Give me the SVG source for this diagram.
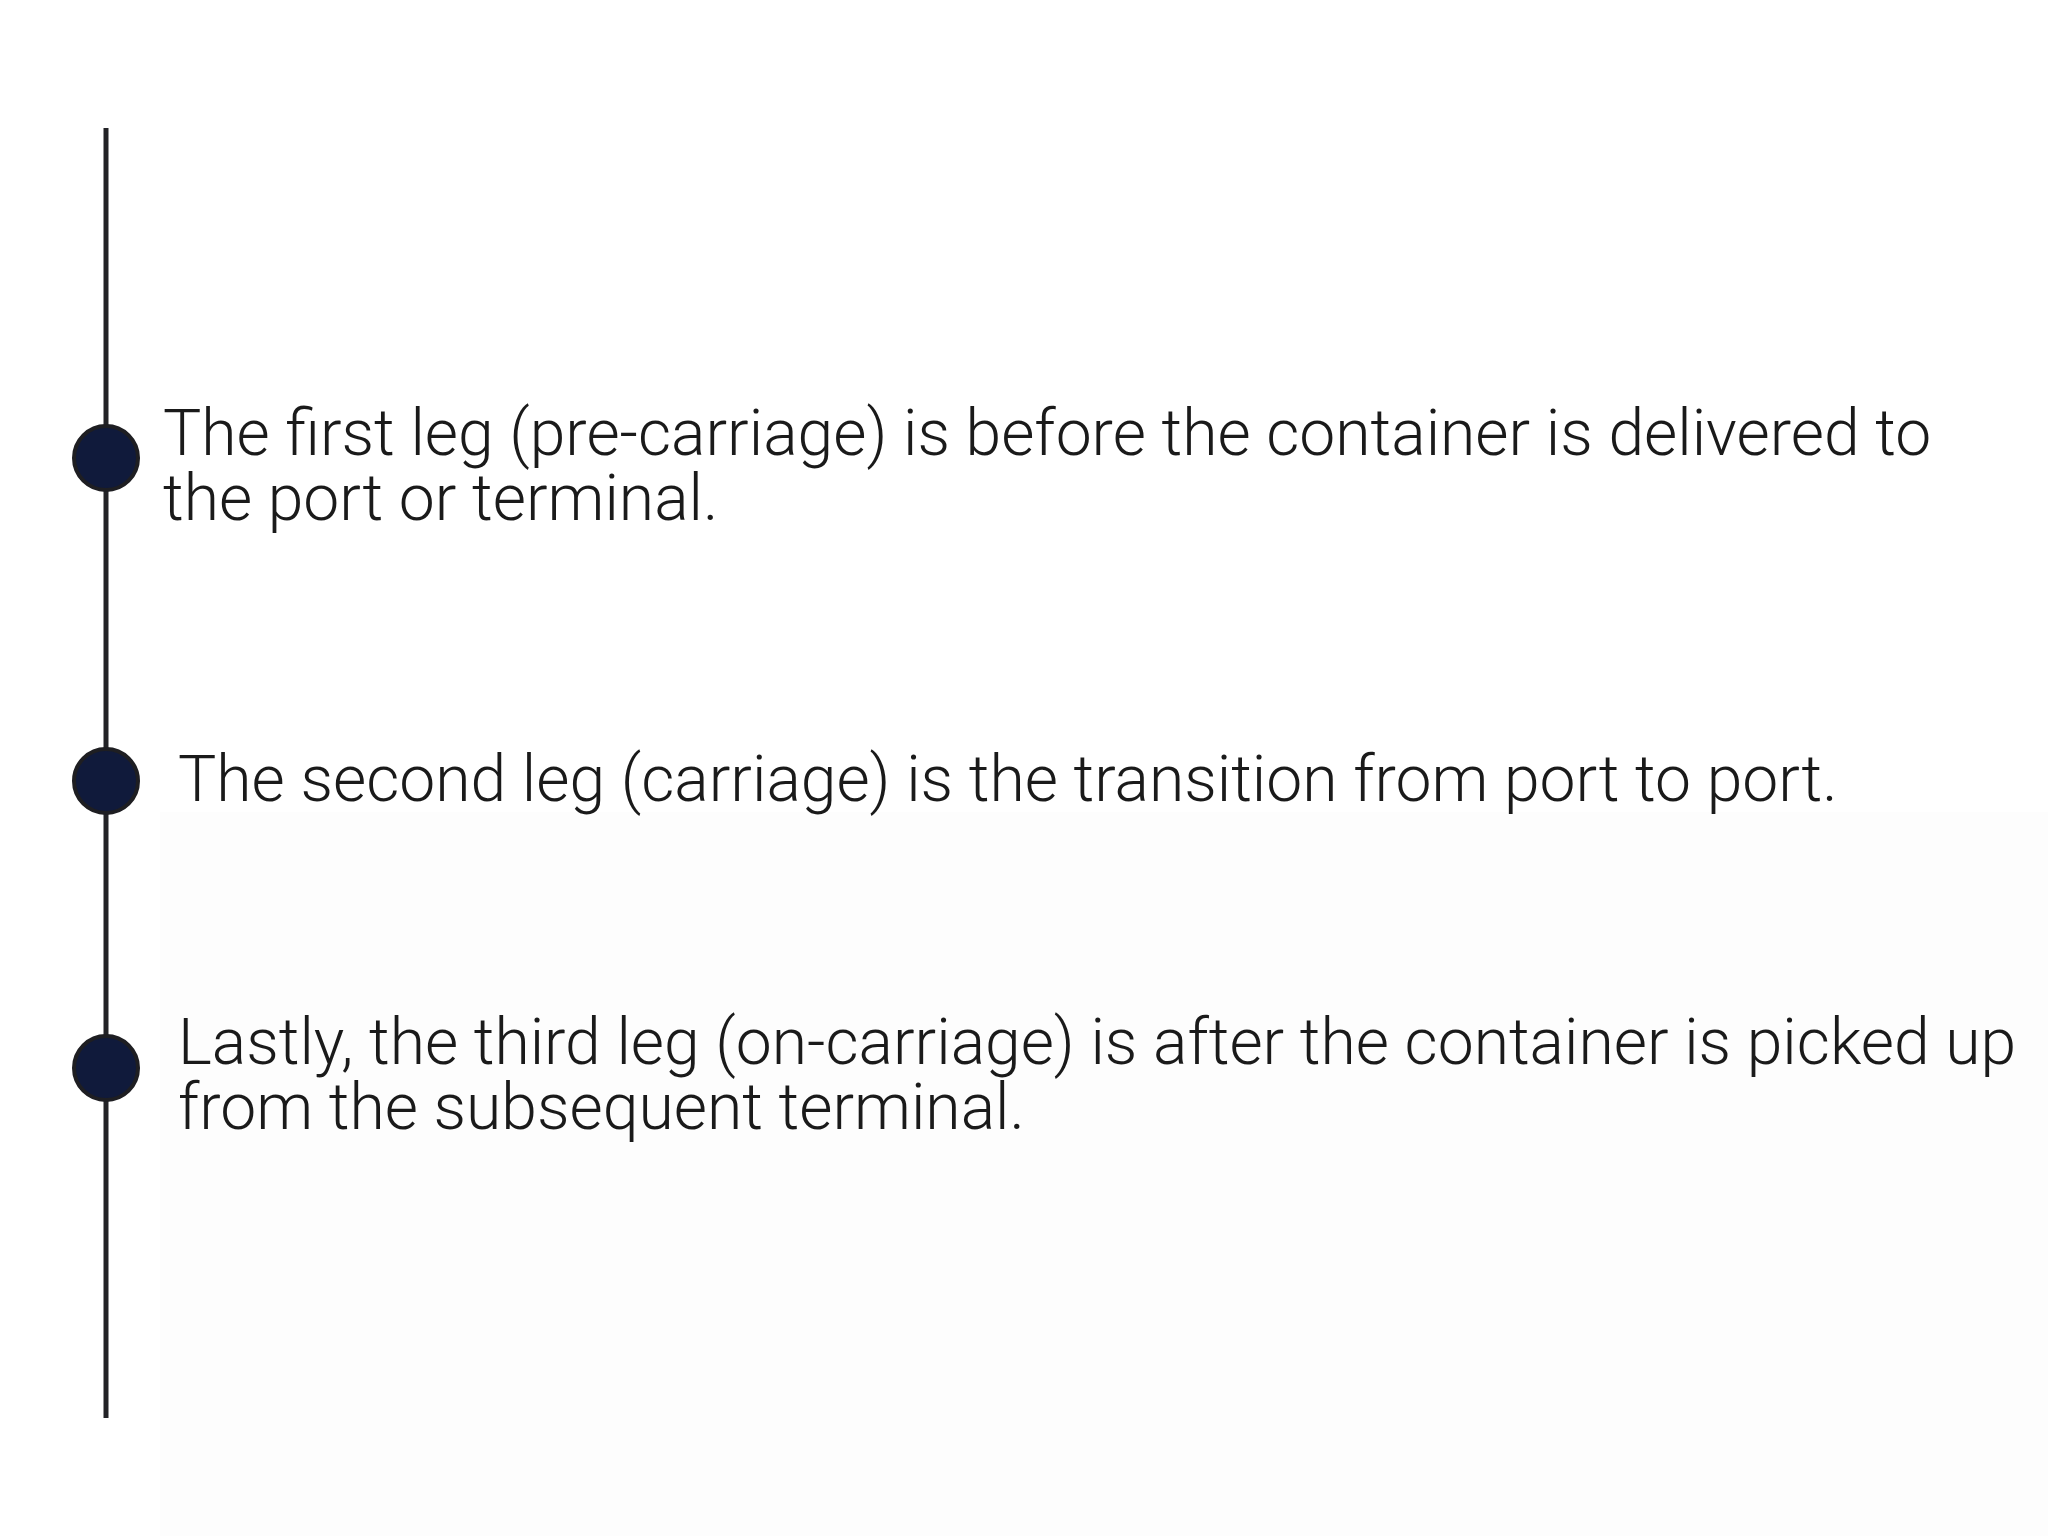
<svg xmlns="http://www.w3.org/2000/svg" width="2048" height="1536" viewBox="0 0 2048 1536">
<style>
.dot{fill:#101a3b;stroke:#1e1e22;stroke-width:4}
.t{font-family:Roboto,"Liberation Sans",sans-serif;font-weight:300;font-size:64.2px;fill:#1a1a1a}
</style>
<rect width="2048" height="1536" fill="#ffffff"/>
<rect x="160" y="812" width="1888" height="724" fill="#fdfdfd"/>
<g id="connectors">
<line x1="106" y1="128" x2="106" y2="1418" stroke="#222226" stroke-width="5"/>
</g>
<g id="node1">
<circle class="dot" cx="106" cy="458" r="32"/>
<text class="t" x="163" y="455">The first leg (pre-carriage) is before the container is delivered to</text>
<text class="t" x="163" y="520">the port or terminal.</text>
</g>
<g id="node2">
<circle class="dot" cx="106" cy="781" r="32"/>
<text class="t" x="178" y="801">The second leg (carriage) is the transition from port to port.</text>
</g>
<g id="node3">
<circle class="dot" cx="106" cy="1068" r="32"/>
<text class="t" x="178" y="1064">Lastly, the third leg (on-carriage) is after the container is picked up</text>
<text class="t" x="178" y="1129">from the subsequent terminal.</text>
</g>
</svg>
